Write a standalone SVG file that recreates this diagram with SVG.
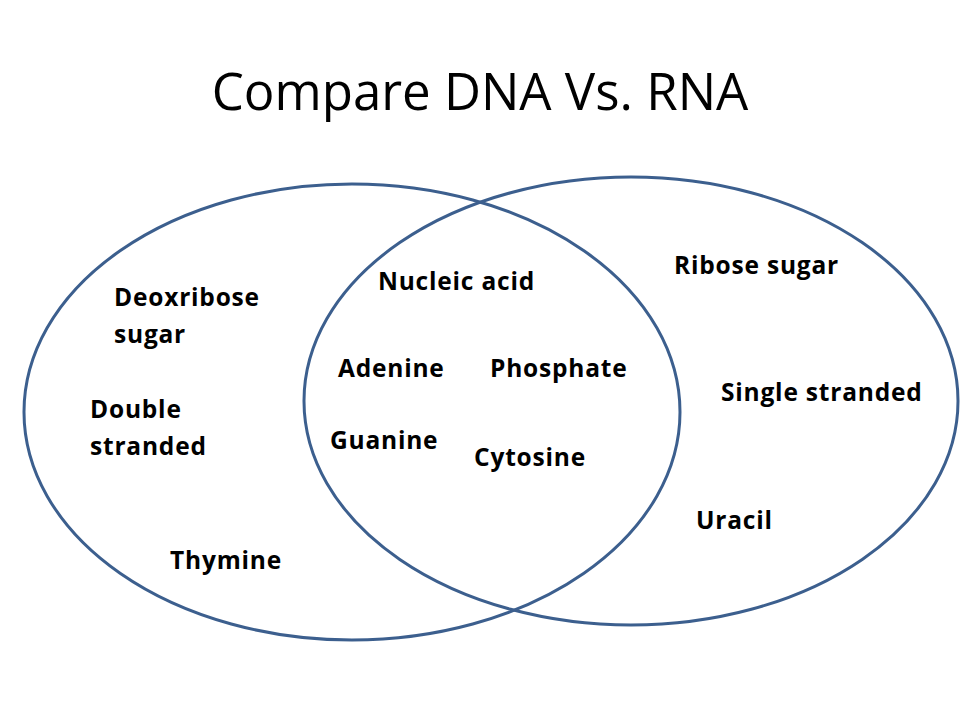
<svg xmlns="http://www.w3.org/2000/svg" width="960" height="720" viewBox="0 0 960 720">
<style>
.c{fill:none;stroke:#3c5f8e;stroke-width:3}
.t{font-family:"Open Sans","Liberation Sans",sans-serif;font-weight:bold;font-size:24.5px;letter-spacing:0.8px;fill:#000}
.h{font-family:"Open Sans","Liberation Sans",sans-serif;font-size:51px;fill:#000}
</style>
<rect width="960" height="720" fill="#fff"/>
<text class="h" x="480" y="110" text-anchor="middle">Compare DNA Vs. RNA</text>
<g id="connectors"></g>
<g id="dna"><ellipse class="c" cx="352" cy="412" rx="328" ry="228"/></g>
<g id="rna"><ellipse class="c" cx="631" cy="401" rx="327" ry="224"/></g>
<g id="labels">
<text class="t" x="114" y="306">Deoxribose</text>
<text class="t" x="114" y="343">sugar</text>
<text class="t" x="90" y="418">Double</text>
<text class="t" x="90" y="455">stranded</text>
<text class="t" x="170" y="569">Thymine</text>
<text class="t" x="378" y="290">Nucleic acid</text>
<text class="t" x="338" y="377">Adenine</text>
<text class="t" x="490" y="377">Phosphate</text>
<text class="t" x="330" y="449">Guanine</text>
<text class="t" x="474" y="466">Cytosine</text>
<text class="t" x="674" y="274">Ribose sugar</text>
<text class="t" x="721" y="401">Single stranded</text>
<text class="t" x="696" y="529">Uracil</text>
</g>
</svg>
